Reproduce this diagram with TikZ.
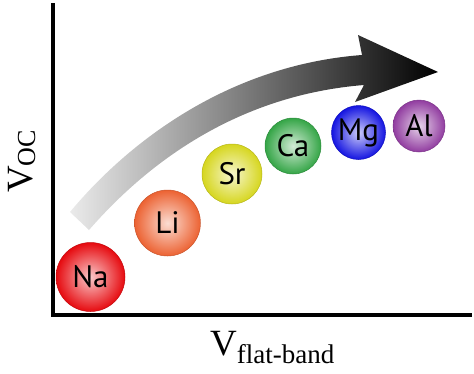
\documentclass[tikz,border=0pt]{standalone}
\usepackage{fontspec}
\setmainfont{Liberation Serif}
\newfontfamily\ballfont{PT Sans}
\definecolor{naC}{RGB}{230,10,15}
\definecolor{liC}{RGB}{236,98,50}
\definecolor{srC}{RGB}{214,214,30}
\definecolor{caC}{RGB}{52,165,70}
\definecolor{mgC}{RGB}{20,20,225}
\definecolor{alC}{RGB}{145,60,160}
\tikzset{
  ball/.style={circle, inner sep=0pt, shading=radial, inner color=#1!22!white,
    outer color=#1, draw=#1!85!black, line width=0.5pt,
    font=\ballfont\fontsize{31}{31}\selectfont, text=black},
  axisline/.style={line width=4pt, line cap=rect},
}
\begin{document}
\begin{tikzpicture}[x=1pt,y=-1pt]
\useasboundingbox (0,0) rectangle (474,373);
% axes
\coordinate (top) at (53,5);
\coordinate (origin) at (53,315);
\coordinate (right) at (470,315);
\draw[axisline] (top) -- (origin) -- (right);
% curved arrow
\shade[left color=black!8, middle color=black!68, right color=black]
  (70,212) .. controls (130,140) and (230,65) .. (362,55)
  -- (358,35) -- (438,72) -- (355,102) -- (364,85)
  .. controls (240,95) and (150,160) .. (89,230) -- cycle;
% balls
\node[ball=naC, minimum size=69pt] (na) at (90.5,277) {Na};
\node[ball=liC, minimum size=66pt] (li) at (167.5,223) {Li};
\node[ball=srC, minimum size=60pt] (sr) at (232,174) {Sr};
\node[ball=caC, minimum size=56pt] (ca) at (293,146) {Ca};
\node[ball=mgC, minimum size=54pt] (mg) at (358.5,132.5) {Mg};
\node[ball=alC, minimum size=52pt] (al) at (419,126) {Al};
% axis labels
\node[anchor=base west, inner sep=0pt] (xlab) at (210,355)
  {\fontsize{37}{37}\selectfont V\raisebox{-8pt}{\fontsize{27}{27}\selectfont flat-band}};
\node[anchor=base west, inner sep=0pt, rotate=90] (ylab) at (32,193)
  {\fontsize{37}{37}\selectfont V\raisebox{-3pt}{\fontsize{26}{26}\selectfont OC}};
\end{tikzpicture}
\end{document}
